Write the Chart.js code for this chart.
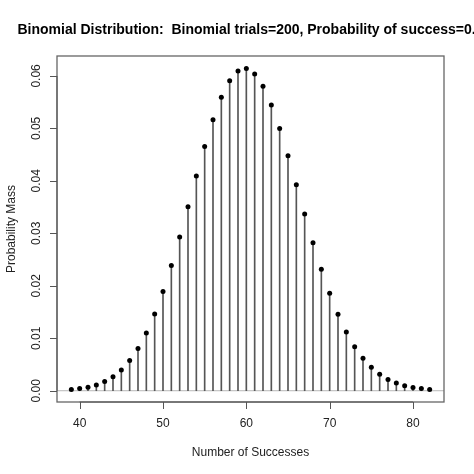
<!DOCTYPE html>
<html>
<head>
<meta charset="utf-8">
<script src="https://cdn.jsdelivr.net/npm/chart.js@4.4.1/dist/chart.umd.min.js"></script>
<style>
  html, body { margin: 0; padding: 0; background: #fff; }
  #wrap { width: 474px; height: 474px; }
</style>
</head>
<body>
<div id="wrap"><canvas id="binomChart" width="474" height="474"></canvas></div>
<script>
// ---- data ----
const successes = [39, 40, 41, 42, 43, 44, 45, 46, 47, 48, 49, 50, 51, 52, 53, 54, 55, 56, 57, 58, 59, 60,
                   61, 62, 63, 64, 65, 66, 67, 68, 69, 70, 71, 72, 73, 74, 75, 76, 77, 78, 79, 80, 81, 82];
const probMass = [0.00024, 0.00041, 0.00068, 0.00111, 0.00175, 0.00267, 0.00397, 0.00574, 0.00805, 0.01100,
                  0.01463, 0.01893, 0.02387, 0.02931, 0.03507, 0.04092, 0.04655, 0.05166, 0.05593, 0.05910,
                  0.06096, 0.06140, 0.06039, 0.05803, 0.05447, 0.04997, 0.04481, 0.03928, 0.03367, 0.02822,
                  0.02314, 0.01856, 0.01456, 0.01118, 0.00840, 0.00618, 0.00445, 0.00314, 0.00216, 0.00146,
                  0.00097, 0.00063, 0.00040, 0.00025];
const xTicks = [40, 50, 60, 70, 80];
const yTicks = [0, 0.01, 0.02, 0.03, 0.04, 0.05, 0.06];
const yTickLabels = ["0.00", "0.01", "0.02", "0.03", "0.04", "0.05", "0.06"];

const titleText = "Binomial Distribution:  Binomial trials=200, Probability of success=0.3";
const xTitle = "Number of Successes";
const yTitle = "Probability Mass";

const points = successes.map((k, i) => ({ x: k, y: probMass[i] }));

const FONT = "Liberation Sans, Arial, sans-serif";

// R-style decorations: box, zero line, axis lines, rotated y labels, titles
const rDecor = {
  id: "rDecor",
  beforeDatasetsDraw(chart) {
    const { ctx, chartArea: a, scales } = chart;
    const y0 = scales.y.getPixelForValue(0);
    ctx.save();
    ctx.strokeStyle = "#b8b8b8";
    ctx.lineWidth = 1;
    ctx.beginPath();
    ctx.moveTo(a.left, y0);
    ctx.lineTo(a.right, y0);
    ctx.stroke();
    ctx.restore();
  },
  afterDraw(chart) {
    const { ctx, chartArea: a, scales } = chart;
    const xs = scales.x, ys = scales.y;
    ctx.save();

    // plot box
    ctx.strokeStyle = "#666";
    ctx.lineWidth = 1.3;
    ctx.strokeRect(a.left, a.top, a.right - a.left, a.bottom - a.top);

    // axis lines and ticks
    ctx.strokeStyle = "#555";
    ctx.lineWidth = 1;
    ctx.beginPath();
    const xa = xs.getPixelForValue(xTicks[0]), xb = xs.getPixelForValue(xTicks[xTicks.length - 1]);
    ctx.moveTo(xa, a.bottom); ctx.lineTo(xb, a.bottom);
    xTicks.forEach(v => {
      const px = Math.round(xs.getPixelForValue(v)) + 0.5;
      ctx.moveTo(px, a.bottom); ctx.lineTo(px, a.bottom + 7);
    });
    const ya = ys.getPixelForValue(yTicks[0]), yb = ys.getPixelForValue(yTicks[yTicks.length - 1]);
    ctx.moveTo(a.left, ya); ctx.lineTo(a.left, yb);
    yTicks.forEach(v => {
      const py = Math.round(ys.getPixelForValue(v)) + 0.5;
      ctx.moveTo(a.left, py); ctx.lineTo(a.left - 7, py);
    });
    ctx.stroke();

    // tick labels
    ctx.fillStyle = "#222";
    ctx.font = "12px " + FONT;
    ctx.textAlign = "center";
    ctx.textBaseline = "middle";
    xTicks.forEach(v => ctx.fillText(String(v), xs.getPixelForValue(v), a.bottom + 22));
    yTicks.forEach((v, i) => {
      ctx.save();
      ctx.translate(a.left - 20, ys.getPixelForValue(v));
      ctx.rotate(-Math.PI / 2);
      ctx.fillText(yTickLabels[i], 0, 0);
      ctx.restore();
    });

    // axis titles
    const cx = (a.left + a.right) / 2, cy = (a.top + a.bottom) / 2;
    ctx.fillText(xTitle, cx, a.bottom + 51);
    ctx.save();
    ctx.translate(12, cy);
    ctx.rotate(-Math.PI / 2);
    ctx.fillText(yTitle, 0, 0);
    ctx.restore();

    // main title
    ctx.fillStyle = "#000";
    ctx.font = "bold 14px " + FONT;
    ctx.fillText(titleText, cx, 30);
    ctx.restore();
  }
};

new Chart(document.getElementById("binomChart"), {
  type: "scatter",
  data: {
    datasets: [
      {
        type: "scatter",
        label: "points",
        data: points,
        pointRadius: 2.5,
        pointHoverRadius: 2.5,
        pointBackgroundColor: "#000",
        pointBorderWidth: 0,
        order: 0
      },
      {
        type: "bar",
        label: "stems",
        data: points,
        backgroundColor: "#555",
        barThickness: 1,
        order: 1
      }
    ]
  },
  options: {
    responsive: false,
    animation: false,
    devicePixelRatio: 1,
    layout: { padding: { top: 56, right: 30, left: 0, bottom: 0 } },
    plugins: { legend: { display: false }, tooltip: { enabled: false }, title: { display: false } },
    scales: {
      x: {
        type: "linear",
        min: 37.28,
        max: 83.72,
        offset: false,
        grid: { display: false, offset: false },
        border: { display: false },
        ticks: { display: false },
        afterFit(scale) { scale.height = 72; }
      },
      y: {
        type: "linear",
        min: -0.00215,
        max: 0.0638,
        grid: { display: false },
        border: { display: false },
        ticks: { display: false },
        afterFit(scale) { scale.width = 57; }
      }
    }
  },
  plugins: [rDecor]
});
</script>
</body>
</html>
